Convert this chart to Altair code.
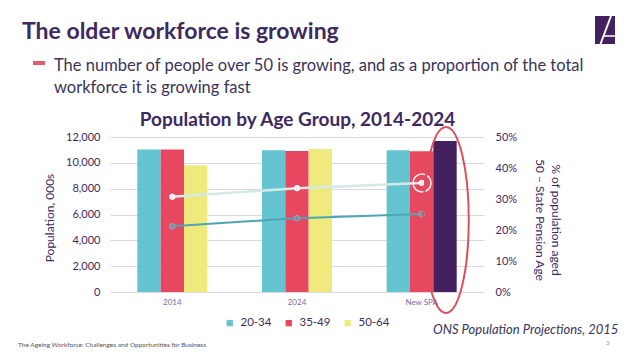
import altair as alt
import pandas as pd

# ---- data ----
categories = ["2014", "2024", "New SPA"]
age_20_34 = [11030, 10975, 10975]
age_35_49 = [11030, 10920, 10900]
age_50_64 = [9820, 11075]          # not shown for New SPA
spa_50_state_pension = [11690]     # New SPA only
pct_light = [0.307, 0.335, 0.352]
pct_dark = [0.212, 0.238, 0.252]
legend_labels = ["20-34", "35-49", "50-64"]

rows = []
for i, c in enumerate(categories):
    rows.append({"cat": c, "series": "20-34", "slot": 0, "value": age_20_34[i]})
    rows.append({"cat": c, "series": "35-49", "slot": 1, "value": age_35_49[i]})
for i, v in enumerate(age_50_64):
    rows.append({"cat": categories[i], "series": "50-64", "slot": 2, "value": v})
rows.append({"cat": "New SPA", "series": "SPA", "slot": 2, "value": spa_50_state_pension[0]})
bars_df = pd.DataFrame(rows)

lines_df = pd.DataFrame({"cat": categories, "light": pct_light, "dark": pct_dark})

# ---- layout (plot origin at page x=110, y=137) ----
OX, OY = 110, 137
W, H = 374, 155
FONT = "Lato"
INK = "#3d2a5e"

def px(x):
    return x - OX

def py(y):
    return y - OY

xscale = alt.Scale(domain=categories, paddingInner=0.438, paddingOuter=0.219)

bars = alt.Chart(bars_df).mark_bar().encode(
    x=alt.X("cat:N", scale=xscale, sort=categories, title=None,
            axis=alt.Axis(labelAngle=0, labelFontSize=8, labelColor="#7a6aa6",
                          ticks=False, domain=False, labelPadding=6, labelFont=FONT)),
    xOffset=alt.XOffset("slot:N", scale=alt.Scale(paddingInner=0, paddingOuter=0)),
    y=alt.Y("value:Q", scale=alt.Scale(domain=[0, 12000], nice=False), title=None,
            axis=alt.Axis(values=[0, 2000, 4000, 6000, 8000, 10000, 12000], format=",.0f",
                          labelFontSize=11, labelColor=INK, labelFont=FONT,
                          ticks=False, domain=False, labelPadding=10,
                          grid=True, gridColor="#dcd7e7", gridWidth=1)),
    color=alt.Color("series:N",
                    scale=alt.Scale(domain=["20-34", "35-49", "50-64", "SPA"],
                                    range=["#64c4d1", "#e8485f", "#eeea7c", "#45205f"]),
                    legend=alt.Legend(values=legend_labels, title=None, orient="none",
                                      direction="horizontal", legendX=114, legendY=180,
                                      padding=0, symbolType="square", symbolSize=40,
                                      symbolStrokeWidth=0, labelFontSize=11.5,
                                      labelFont=FONT, labelColor=INK,
                                      labelOffset=5, columnPadding=11)),
)

pct_scale = alt.Scale(domain=[0, 0.5], nice=False)
light = alt.Chart(lines_df).mark_line(
    color="#d3eae7", strokeWidth=2.5,
    point=alt.OverlayMarkDef(filled=True, fill="#f6ecef", stroke="#ffffff", strokeWidth=1, size=30),
).encode(
    x=alt.X("cat:N", scale=xscale, sort=categories),
    y=alt.Y("light:Q", scale=pct_scale, title=None,
            axis=alt.Axis(orient="right", values=[0, 0.1, 0.2, 0.3, 0.4, 0.5], format=".0%",
                          labelFontSize=11, labelColor=INK, labelFont=FONT,
                          ticks=False, domain=False, labelPadding=11, grid=False)),
)
dark = alt.Chart(lines_df).mark_line(
    color="#4fa5b4", strokeWidth=2,
    point=alt.OverlayMarkDef(filled=True, fill="#7d8fa8", stroke="#9aaabb", strokeWidth=1, size=32),
).encode(
    x=alt.X("cat:N", scale=xscale, sort=categories),
    y=alt.Y("dark:Q", scale=pct_scale, axis=None),
)

one = pd.DataFrame({"k": [0]})

def txt(text, x, y, size, color=INK, weight="normal", style="normal",
        align="left", angle=0):
    return alt.Chart(one).mark_text(
        text=text, font=FONT, fontSize=size, color=color, fontWeight=weight,
        fontStyle=style, align=align, baseline="middle", angle=angle,
    ).encode(x=alt.value(px(x)), y=alt.value(py(y)))

texts = [
    txt("The older workforce is growing", 22, 32, 23, weight="bold"),
    txt("The number of people over 50 is growing, and as a proportion of the total",
        54, 66, 16.5, color="#3a3358"),
    txt("workforce it is growing fast", 54, 88, 16.5, color="#3a3358"),
    txt("Population by Age Group, 2014-2024", 297.5, 120, 19, weight="bold", align="center"),
    txt("Population, 000s", 50, 218, 12, align="center", angle=270),
    txt("% of population aged", 556, 220, 12, align="center", angle=90),
    txt("50 \u2013 State Pension Age", 540, 220, 12, align="center", angle=90),
    txt("ONS Population Projections, 2015", 433, 330, 13, style="italic", color="#3a3358"),
    txt("The Ageing Workforce: Challenges and Opportunities for Business", 18, 345, 6.5,
        color="#555555"),
    txt("3", 606, 343, 6, color="#999999"),
]

dash = alt.Chart(one).mark_rule(color="#e0606f", strokeWidth=4).encode(
    x=alt.value(px(33)), x2=alt.value(px(45)), y=alt.value(py(63)), y2=alt.value(py(63)))

logo = alt.Chart(one).mark_rect(color="#45205f").encode(
    x=alt.value(px(595)), x2=alt.value(px(615)), y=alt.value(py(16)), y2=alt.value(py(44)))
logo_cut1 = alt.Chart(one).mark_rule(color="#ffffff", strokeWidth=2).encode(
    x=alt.value(px(611)), x2=alt.value(px(600.5)), y=alt.value(py(16)), y2=alt.value(py(44)))
logo_cut2 = alt.Chart(one).mark_rule(color="#ffffff", strokeWidth=1.5).encode(
    x=alt.value(px(604)), x2=alt.value(px(615)), y=alt.value(py(36)), y2=alt.value(py(36)))

ellipse = alt.Chart(one).mark_point(
    shape="M -0.245 0 A 0.245 1 0 1 0 0.245 0 A 0.245 1 0 1 0 -0.245 0 Z",
    size=186 * 186, filled=False, stroke="#d9515e", strokeWidth=2, opacity=1,
).encode(x=alt.value(px(446)), y=alt.value(py(220)))

small_circle = alt.Chart(one).mark_point(
    shape="circle", size=324, filled=False, stroke="#f7f0f2", strokeWidth=1.5, opacity=1,
).encode(x=alt.value(px(422)), y=alt.value(py(183)))

chart = alt.layer(
    bars, light, dark, small_circle, ellipse, dash, logo, logo_cut1, logo_cut2, *texts
).resolve_scale(y="independent").properties(
    width=W, height=H,
    autosize=alt.AutoSizeParams(type="none"),
    padding={"left": OX - 8, "top": OY - 8, "right": 622 - (OX - 8) - W,
             "bottom": 343 - (OY - 8) - H},
    background="#ffffff",
).configure_view(stroke=None)

chart.save("out.html", embed_options={"renderer": "svg", "actions": False})
